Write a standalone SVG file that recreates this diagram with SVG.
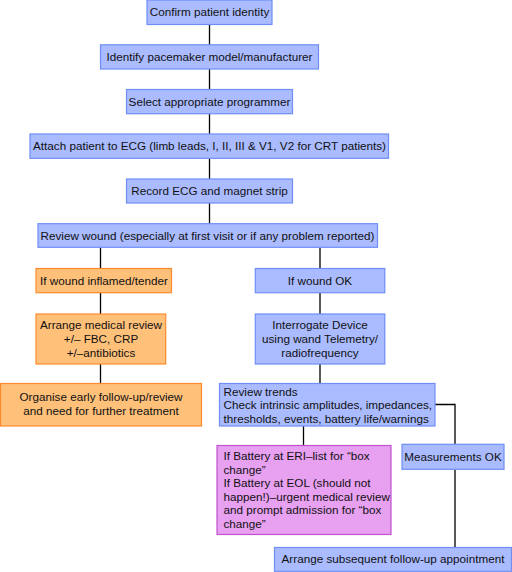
<svg xmlns="http://www.w3.org/2000/svg" width="512" height="572" viewBox="0 0 512 572">
<style>
.b rect{fill:#AABBFF;stroke:#6E8EF5;stroke-width:1.2}
.o rect{fill:#FFC07A;stroke:#FF8A2E;stroke-width:1.2}
.p rect{fill:#E8A0F0;stroke:#C050D0;stroke-width:1.2}
text{font-family:"Liberation Sans",Arial,sans-serif;font-size:11.7px;fill:#111}
.c{text-anchor:middle}
#connectors path{fill:none;stroke:#000;stroke-width:1.3}
</style>
<rect width="512" height="572" fill="#fff"/>
<g id="connectors">
<path d="M209.5 24V45M209.5 69V90M209.5 114V134M209.5 158V179M209.5 203V224"/>
<path d="M100.5 247V268M100.5 293V314M100.5 364V383"/>
<path d="M320 247V268M320 293V314M320 364V383"/>
<path d="M303.5 426V445"/>
<path d="M435 404.5H455V444M455 469.5V547"/>
</g>
<g id="n1" class="b"><rect x="147" y="0" width="125" height="24.5"/><text class="c" x="209.5" y="16.2">Confirm patient identity</text></g>
<g id="n2" class="b"><rect x="100.5" y="44.8" width="218" height="24.2"/><text class="c" x="209.5" y="60.8">Identify pacemaker model/manufacturer</text></g>
<g id="n3" class="b"><rect x="126.5" y="89.5" width="166" height="24.2"/><text class="c" x="209.5" y="105.8">Select appropriate programmer</text></g>
<g id="n4" class="b"><rect x="30" y="134" width="358.5" height="24.3"/><text class="c" x="209.5" y="150.3">Attach patient to ECG (limb leads, I, II, III &amp; V1, V2 for CRT patients)</text></g>
<g id="n5" class="b"><rect x="126.5" y="179" width="166" height="24"/><text class="c" x="209.5" y="195">Record ECG and magnet strip</text></g>
<g id="n6" class="b"><rect x="38" y="223.7" width="339.5" height="23.6"/><text class="c" x="207.5" y="239.5">Review wound (especially at first visit or if any problem reported)</text></g>
<g id="n7" class="o"><rect x="36" y="268.5" width="135.5" height="24.2"/><text class="c" x="104" y="284.8">If wound inflamed/tender</text></g>
<g id="n8" class="b"><rect x="255.3" y="268.5" width="129.5" height="24.2"/><text class="c" x="320" y="284.8">If wound OK</text></g>
<g id="n9" class="o"><rect x="36" y="314" width="129.7" height="50"/><text class="c" x="101" y="329.3">Arrange medical review</text><text class="c" x="101" y="343.3">+/– FBC, CRP</text><text class="c" x="101" y="357.3">+/–antibiotics</text></g>
<g id="n10" class="b"><rect x="255.3" y="314" width="129.5" height="50"/><text class="c" x="320" y="329.3">Interrogate Device</text><text class="c" x="320" y="343.3">using wand Telemetry/</text><text class="c" x="320" y="357.3">radiofrequency</text></g>
<g id="n11" class="o"><rect x="0.5" y="383.5" width="201" height="42.5"/><text class="c" x="101" y="401.3">Organise early follow-up/review</text><text class="c" x="101" y="415.3">and need for further treatment</text></g>
<g id="n12" class="b"><rect x="219.5" y="383.5" width="215.5" height="42.5"/><text x="223.5" y="395.8">Review trends</text><text x="223.5" y="409.3">Check intrinsic amplitudes, impedances,</text><text x="223.5" y="423.3">thresholds, events, battery life/warnings</text></g>
<g id="n13" class="p"><rect x="217" y="445.5" width="174" height="89"/><text x="223.5" y="460.3">If Battery at ERI–list for “box</text><text x="223.5" y="473.8">change”</text><text x="223.5" y="487.3">If Battery at EOL (should not</text><text x="223.5" y="500.8">happen!)–urgent medical review</text><text x="223.5" y="514.3">and prompt admission for “box</text><text x="223.5" y="527.8">change”</text></g>
<g id="n14" class="b"><rect x="402" y="444.3" width="102" height="25"/><text class="c" x="453" y="460.8">Measurements OK</text></g>
<g id="n15" class="b"><rect x="274.5" y="547.5" width="237" height="23.8"/><text class="c" x="393" y="563.3">Arrange subsequent follow-up appointment</text></g>
</svg>
